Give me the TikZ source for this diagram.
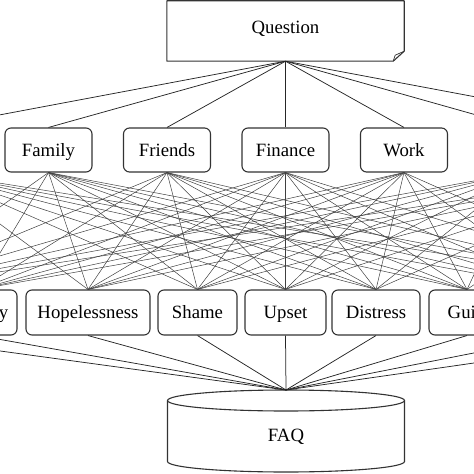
\documentclass[tikz,border=0pt]{standalone}
\usepackage{fontspec}
\setmainfont{Liberation Serif}
\newcommand\nodefs{\fontsize{18.75bp}{22bp}\selectfont}
\begin{document}
\begin{tikzpicture}[x=1bp,y=-1bp,
  conn/.style={draw=black!85, line width=0.75bp},
  mesh/.style={draw=black!75, line width=0.5bp},
  boxborder/.style={draw=black!80, line width=1.1bp},
  topbox/.style={boxborder, fill=white, rounded corners=6bp, minimum width=87bp, minimum height=44bp, inner sep=0pt, font=\nodefs, text height=15bp, text depth=2.6bp},
  botbox/.style={boxborder, fill=white, rounded corners=6bp, minimum height=45bp, inner sep=0pt, font=\nodefs, text height=15bp, text depth=2.6bp},
  txt/.style={inner sep=0pt, font=\nodefs}]
\useasboundingbox (0,0) rectangle (474,474);
\clip (0,0) rectangle (474,474);

% Question (document shape)
\node[txt, minimum width=237bp, minimum height=60bp, text height=12.4bp, text depth=8bp] (q) at (285.5,31) {Question};
\draw[boxborder, line join=round] (q.north west) -- (q.north east) -- ([yshift=10bp]q.south east)
  -- ([xshift=-11bp]q.south east) -- (q.south west) -- cycle;
\draw[boxborder, line width=0.7bp, line join=round] ([yshift=10bp]q.south east) -- ([xshift=-9bp,yshift=6bp]q.south east) -- ([xshift=-11bp]q.south east);

% Top row
\node[topbox] (tfam) at (48.5,150) {Family};
\node[topbox] (tfri) at (167,150) {Friends};
\node[topbox] (tfin) at (285.5,150) {Finance};
\node[topbox] (twrk) at (404,150) {Work};
\coordinate (tl-n) at (-70,128);   \coordinate (tl-s) at (-70,172);
\coordinate (tr1-n) at (522.5,128); \coordinate (tr1-s) at (522.5,172);
\coordinate (tr2-n) at (641,128);   \coordinate (tr2-s) at (641,172);

% Bottom row
\node[botbox, minimum width=78bp] (banx) at (-22,312.5) {Anxiety};
\node[botbox, minimum width=124bp] (bhop) at (88,312.5) {Hopelessness};
\node[botbox, minimum width=79bp] (bsha) at (197.5,312.5) {Shame};
\node[botbox, minimum width=81bp] (bups) at (285.5,312.5) {Upset};
\node[botbox, minimum width=88bp] (bdis) at (376,312.5) {Distress};
\node[botbox, minimum width=76bp] (bgui) at (467,312.5) {Guilt};
\coordinate (bl2-n) at (-117,290); \coordinate (bl2-s) at (-117,335);
\coordinate (br1-n) at (565,290);  \coordinate (br1-s) at (565,335);
\coordinate (br2-n) at (669,290);  \coordinate (br2-s) at (669,335);

% FAQ (cylinder)
\node[txt] (faq) at (286,437) {FAQ};
\coordinate (faqtop) at (286,390);
\draw[boxborder] (286,400.5) ellipse [x radius=118.5bp, y radius=10.5bp];
\draw[boxborder] (167.5,400.5) -- (167.5,461.5) arc[start angle=180, end angle=360, x radius=118.5bp, y radius=10.5bp] -- (404.5,400.5);

% Question -> top row
\foreach \t in {tl-n, tfam.north, tfri.north, tfin.north, twrk.north, tr1-n, tr2-n}
  \draw[conn] (q.south) -- (\t);

% Top row -> bottom row (complete)
\foreach \a in {tl-s, tfam.south, tfri.south, tfin.south, twrk.south, tr1-s, tr2-s}
  \foreach \b in {bl2-n, banx.north, bhop.north, bsha.north, bups.north, bdis.north, bgui.north, br1-n, br2-n}
    \draw[mesh] (\a) -- (\b);

% Bottom row -> FAQ
\foreach \b in {bl2-s, banx.south, bhop.south, bsha.south, bups.south, bdis.south, bgui.south, br1-s, br2-s}
  \draw[conn] (\b) -- (faqtop);
\end{tikzpicture}
\end{document}
